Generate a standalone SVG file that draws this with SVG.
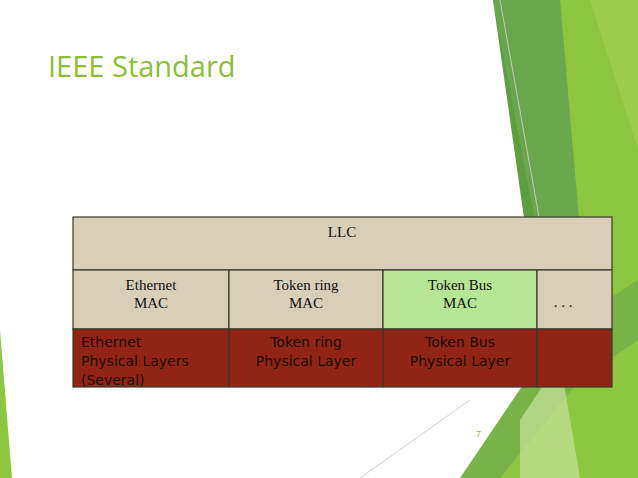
<svg xmlns="http://www.w3.org/2000/svg" width="638" height="478" viewBox="0 0 638 478">
<style>
.c{stroke:#3a3a2a;stroke-width:1.2}
.s{font-family:"Liberation Serif",serif;font-size:15px;fill:#111;text-anchor:middle}
.p{font-family:"DejaVu Sans",sans-serif;font-size:14px;fill:#1a0d05}
</style>
<rect width="638" height="478" fill="#fff"/>
<g id="bg">
<polygon points="0,330 12,478 0,478" fill="#8dc63f"/>
<polygon points="493,0 638,0 638,478 555,478 530,260" fill="#5e9e3e"/>
<polygon points="493,0 560,0 590,250 550,300" fill="#6aa84f" opacity="0.9"/>
<polygon points="560,0 638,0 638,478 600,478 580,230" fill="#8cc63f"/>
<polygon points="590,0 638,0 638,150" fill="#9ccc4a"/>
<polygon points="460,478 560,330 638,280 638,478" fill="#77b347"/>
<polygon points="500,478 580,380 638,340 638,478" fill="#8dc63f"/>
<polygon points="520,420 560,360 580,478 520,478" fill="#c8e29c" opacity="0.7"/>
<line x1="500" y1="0" x2="545" y2="250" stroke="#c9c9c9" stroke-width="1"/>
<line x1="360" y1="478" x2="470" y2="400" stroke="#d0d0d0" stroke-width="1"/>
</g>
<text x="48" y="77" font-family="'Open Sans','DejaVu Sans',sans-serif" font-size="29" fill="#8dbd3a">IEEE Standard</text>
<g id="llc"><rect x="73" y="217" width="539" height="53" fill="#d8cfb9" class="c"/><text x="342" y="237" class="s">LLC</text></g>
<g id="eth-mac"><rect x="73" y="270" width="156" height="59" fill="#d8cfb9" class="c"/><text x="151" y="290" class="s">Ethernet</text><text x="151" y="308" class="s">MAC</text></g>
<g id="tr-mac"><rect x="229" y="270" width="154" height="59" fill="#d8cfb9" class="c"/><text x="306" y="290" class="s">Token ring</text><text x="306" y="308" class="s">MAC</text></g>
<g id="tb-mac"><rect x="383" y="270" width="154" height="59" fill="#b6e596" class="c"/><text x="460" y="290" class="s">Token Bus</text><text x="460" y="308" class="s">MAC</text></g>
<g id="dots"><rect x="537" y="270" width="75" height="59" fill="#d8cfb9" class="c"/><text x="563" y="307" class="s" font-size="20">. . .</text></g>
<g id="eth-phy"><rect x="73" y="329" width="156" height="58" fill="#922415" class="c"/><text x="81" y="347" class="p">Ethernet</text><text x="81" y="366" class="p">Physical Layers</text><text x="81" y="385" class="p">(Several)</text></g>
<g id="tr-phy"><rect x="229" y="329" width="154" height="58" fill="#922415" class="c"/><text x="306" y="347" class="p" text-anchor="middle">Token ring</text><text x="306" y="366" class="p" text-anchor="middle">Physical Layer</text></g>
<g id="tb-phy"><rect x="383" y="329" width="154" height="58" fill="#922415" class="c"/><text x="460" y="347" class="p" text-anchor="middle">Token Bus</text><text x="460" y="366" class="p" text-anchor="middle">Physical Layer</text></g>
<g id="blank"><rect x="537" y="329" width="75" height="58" fill="#922415" class="c"/></g>
<g id="connectors"/>
<text x="476" y="437" font-family="'Liberation Sans',sans-serif" font-size="9" fill="#8dbd3a">7</text>
</svg>
